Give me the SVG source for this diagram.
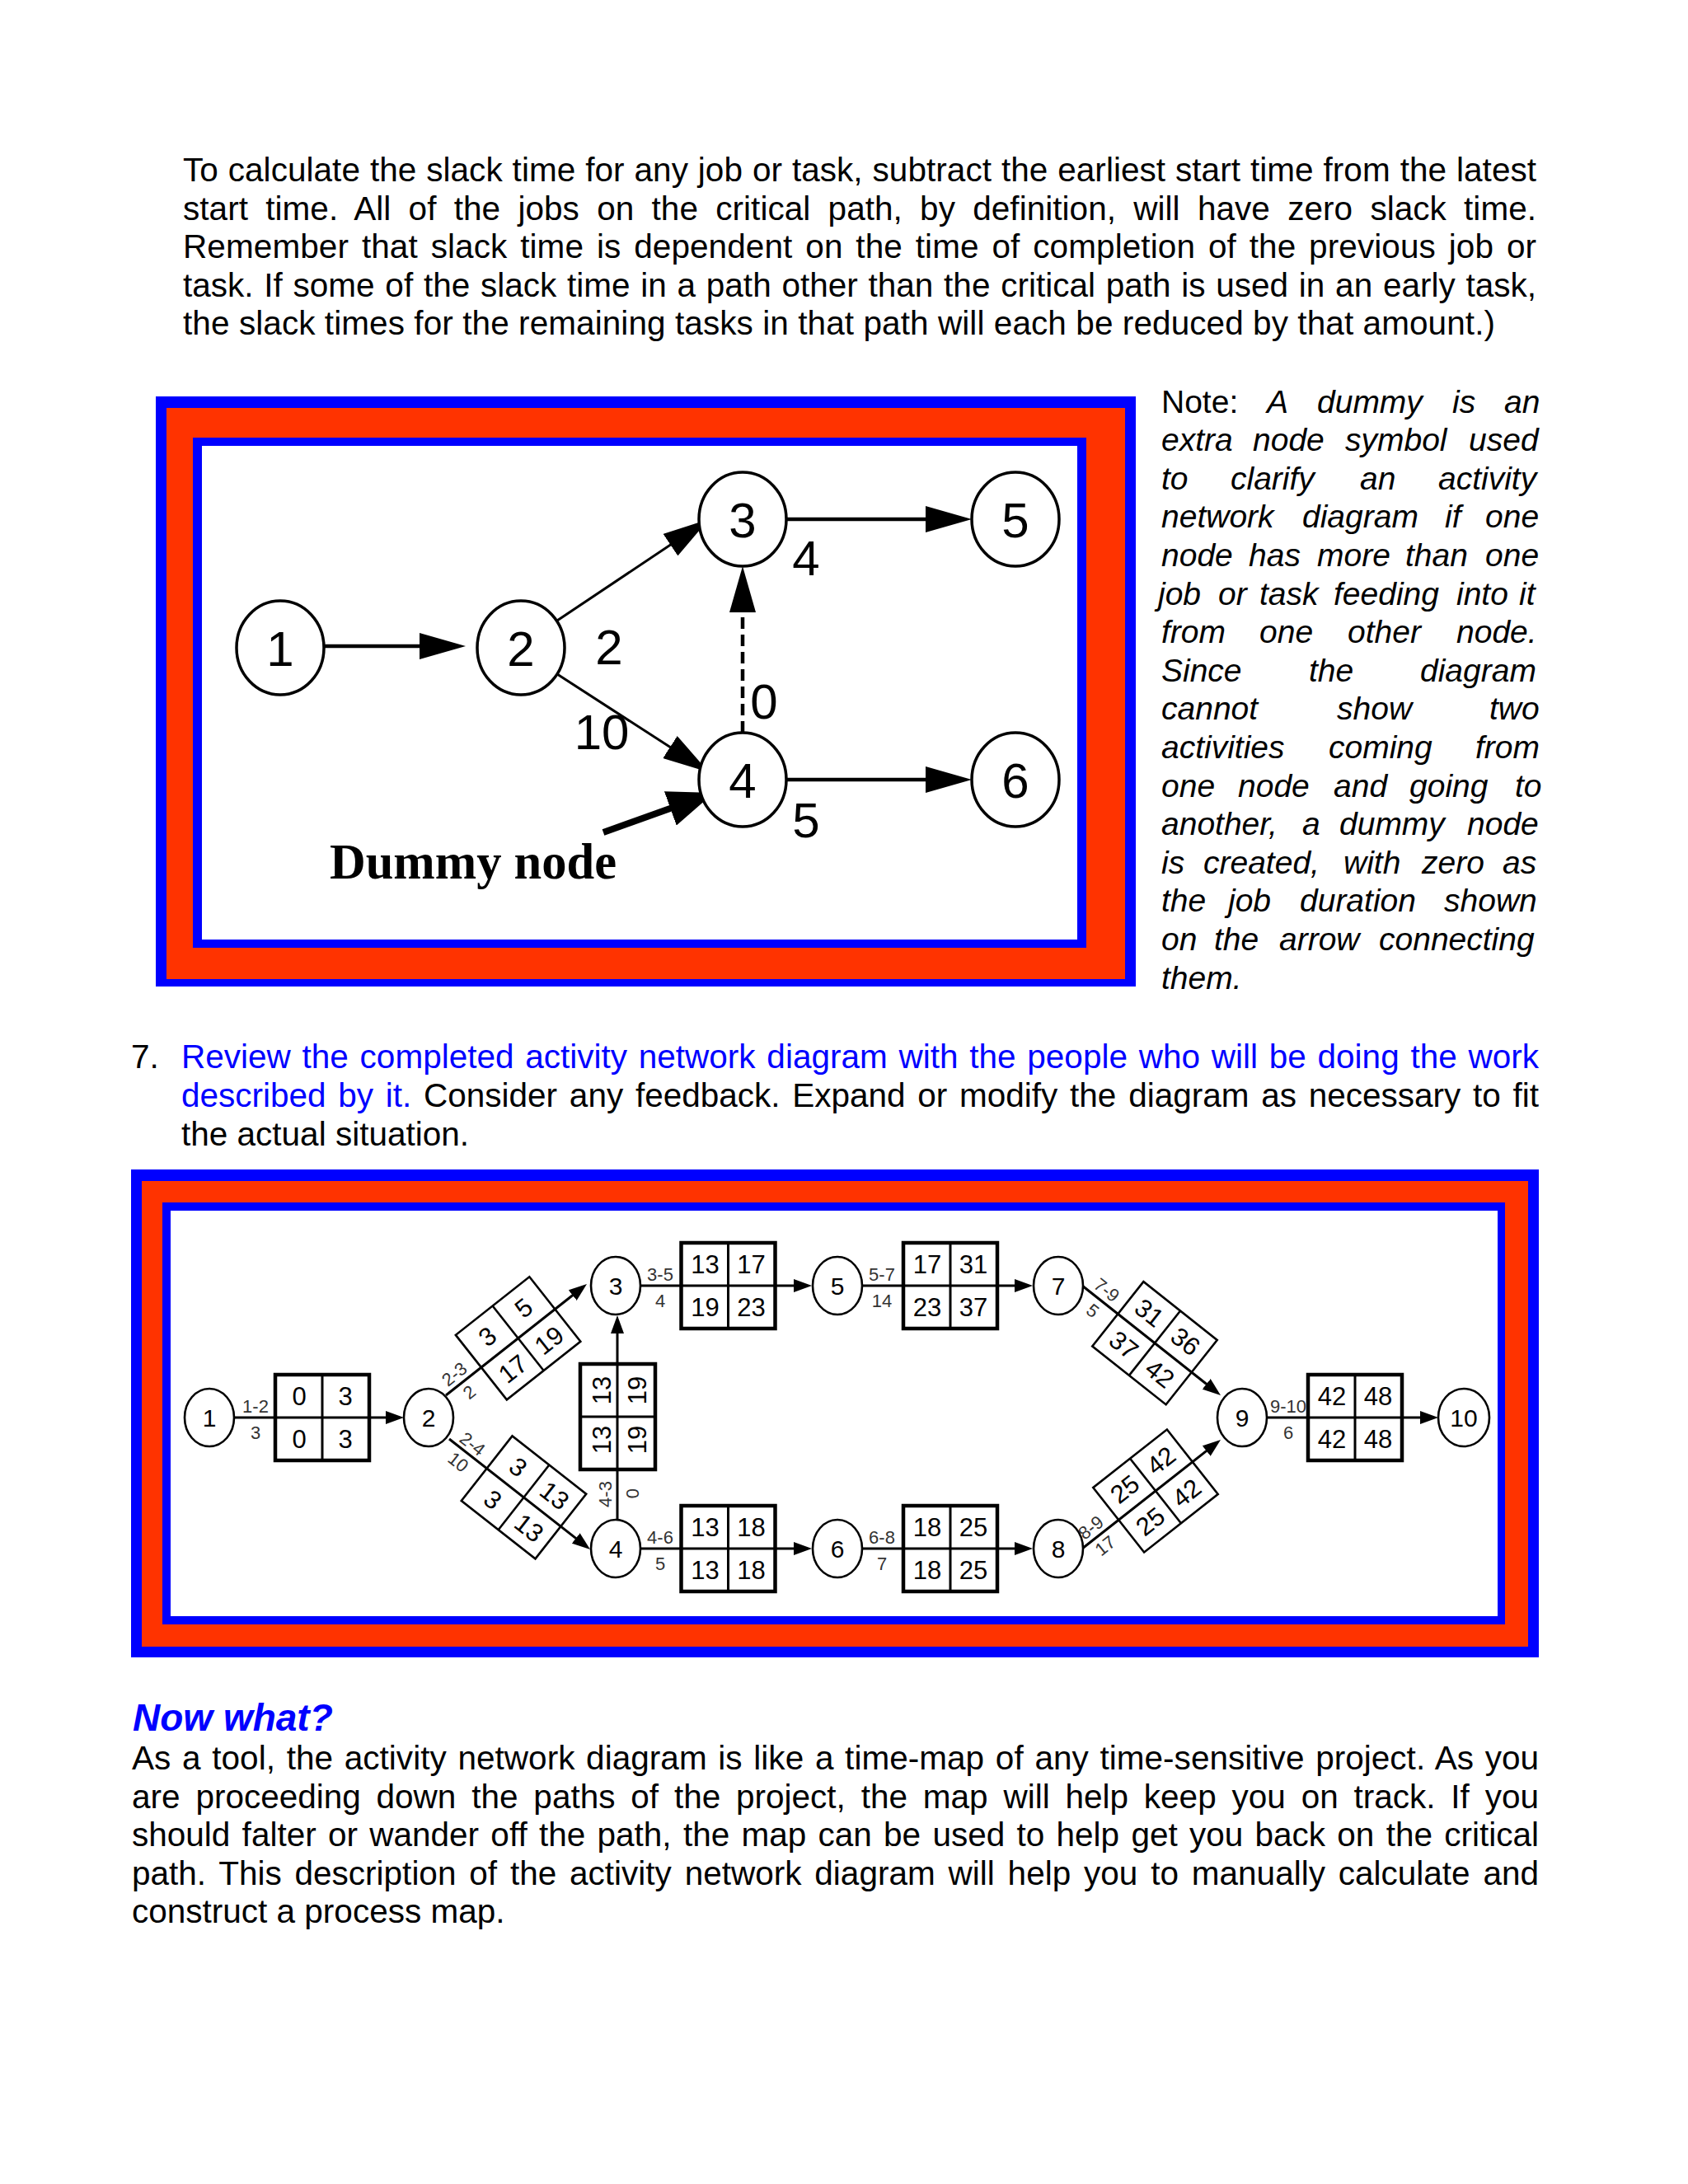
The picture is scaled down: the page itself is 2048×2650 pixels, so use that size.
<svg xmlns="http://www.w3.org/2000/svg" width="2048" height="2650" viewBox="0 0 2048 2650">
<defs>
<style>
.t{font-family:"Liberation Sans",Arial,sans-serif;font-size:40.5px;fill:#000}
.blue{fill:#0000ff}
.note{font-family:"Liberation Sans",Arial,sans-serif;font-size:39px;font-style:italic;fill:#000}
.up{font-style:normal}
.n1 ellipse{fill:#fff;stroke:#000;stroke-width:3.5}
.n1 text,.l1{font-family:"Liberation Sans",Arial,sans-serif;font-size:60px;text-anchor:middle;fill:#000}
.ln1{stroke:#000;stroke-width:4.5;fill:none}
.ln1d{stroke:#000;stroke-width:3;fill:none}
.n2 ellipse{fill:#fff;stroke:#000;stroke-width:2.6}
.n2 text{font-family:"Liberation Sans",Arial,sans-serif;font-size:30px;text-anchor:middle;fill:#000}
.ln2{stroke:#000;stroke-width:3;fill:none}
.hb{fill:none;stroke:#000;stroke-width:4.5}
.db{fill:none;stroke:#000;stroke-width:2.6}
.dv{stroke:#000;stroke-width:3}
.val{font-family:"Liberation Sans",Arial,sans-serif;font-size:31px;text-anchor:middle;fill:#000}
.lab{font-family:"Liberation Sans",Arial,sans-serif;font-size:22px;text-anchor:middle;fill:#333}
</style>
<marker id="ah1" markerUnits="userSpaceOnUse" viewBox="0 0 56 32" markerWidth="56" markerHeight="32" refX="36" refY="16" orient="auto"><path d="M0,0 L56,16 L0,32 Z" fill="#000"/></marker>
<marker id="ahd" markerUnits="userSpaceOnUse" viewBox="0 0 56 44" markerWidth="56" markerHeight="44" refX="36" refY="22" orient="auto"><path d="M0,0 L56,22 L0,44 Z" fill="#000"/></marker>
<marker id="ah2" markerUnits="userSpaceOnUse" viewBox="0 0 22 16" markerWidth="22" markerHeight="16" refX="14" refY="8" orient="auto"><path d="M0,0 L22,8 L0,16 Z" fill="#000"/></marker>
</defs>
<rect width="2048" height="2650" fill="#fff"/>

<g id="top-paragraph" class="t">
<text x="222" y="220" textLength="1642" lengthAdjust="spacing" style="word-spacing:0.6px">To calculate the slack time for any job or task, subtract the earliest start time from the latest</text>
<text x="222" y="266.5" textLength="1642" lengthAdjust="spacing" style="word-spacing:10px">start time. All of the jobs on the critical path, by definition, will have zero slack time.</text>
<text x="222" y="313" textLength="1642" lengthAdjust="spacing" style="word-spacing:4.5px">Remember that slack time is dependent on the time of completion of the previous job or</text>
<text x="222" y="359.5" textLength="1642" lengthAdjust="spacing" style="word-spacing:1.5px">task. If some of the slack time in a path other than the critical path is used in an early task,</text>
<text x="222" y="406" textLength="1592" lengthAdjust="spacing">the slack times for the remaining tasks in that path will each be reduced by that amount.)</text>
</g>

<g id="diagram1-frame">
<rect x="189" y="481" width="1189" height="716" fill="#0000ff"/>
<rect x="202" y="495" width="1163" height="693" fill="#ff3300"/>
<rect x="234" y="531" width="1084" height="619" fill="#0000ff"/>
<rect x="245" y="541" width="1062" height="599" fill="#fff"/>
</g>

<g id="d1-connectors">
<line class="ln1" x1="393" y1="784" x2="545" y2="784" marker-end="url(#ah1)"/>
<line class="ln1" x1="954" y1="630" x2="1159" y2="630" marker-end="url(#ah1)"/>
<line class="ln1" x1="954" y1="946" x2="1159" y2="946" marker-end="url(#ah1)"/>
<line class="ln1d" x1="673" y1="755" x2="843.4" y2="641.1" marker-end="url(#ah1)"/>
<line class="ln1d" x1="673" y1="816" x2="843.2" y2="926.1" marker-end="url(#ah1)"/>
<line class="ln1" x1="901" y1="889" x2="901" y2="707" stroke-dasharray="14 7" marker-end="url(#ah1)"/>
<line x1="732" y1="1010" x2="847.2" y2="968.7" stroke="#000" stroke-width="8" marker-end="url(#ahd)"/>
</g>
<g id="d1-node-1" class="n1"><ellipse cx="340" cy="786" rx="53" ry="57"/><text x="340" y="807.5">1</text></g>
<g id="d1-node-2" class="n1"><ellipse cx="632" cy="786" rx="53" ry="57"/><text x="632" y="807.5">2</text></g>
<g id="d1-node-3" class="n1"><ellipse cx="901" cy="630" rx="53" ry="57"/><text x="901" y="651.5">3</text></g>
<g id="d1-node-4" class="n1"><ellipse cx="901" cy="946" rx="53" ry="57"/><text x="901" y="967.5">4</text></g>
<g id="d1-node-5" class="n1"><ellipse cx="1232" cy="630" rx="53" ry="57"/><text x="1232" y="651.5">5</text></g>
<g id="d1-node-6" class="n1"><ellipse cx="1232" cy="946" rx="53" ry="57"/><text x="1232" y="967.5">6</text></g>
<g id="d1-labels">
<text class="l1" x="739" y="805.5">2</text>
<text class="l1" x="978" y="697.5">4</text>
<text class="l1" x="730" y="908.5">10</text>
<text class="l1" x="927" y="871.5">0</text>
<text class="l1" x="978" y="1015.5">5</text>
<text x="400" y="1065.7" textLength="348" lengthAdjust="spacingAndGlyphs" style="font-family:'Liberation Serif','Times New Roman',serif;font-weight:bold;font-size:61px">Dummy node</text>
</g>

<g id="note">
<text class="note" y="500.5"><tspan class="up" x="1409">Note:</tspan><tspan x="1537">A</tspan><tspan x="1598">dummy</tspan><tspan x="1762">is</tspan><tspan x="1825">an</tspan></text>
<text class="note" y="547.1"><tspan x="1409">extra</tspan><tspan x="1520">node</tspan><tspan x="1632">symbol</tspan><tspan x="1782">used</tspan></text>
<text class="note" y="593.7"><tspan x="1409">to</tspan><tspan x="1493">clarify</tspan><tspan x="1650">an</tspan><tspan x="1745">activity</tspan></text>
<text class="note" y="640.3"><tspan x="1409">network</tspan><tspan x="1580">diagram</tspan><tspan x="1753">if</tspan><tspan x="1802">one</tspan></text>
<text class="note" y="686.9"><tspan x="1409">node</tspan><tspan x="1515">has</tspan><tspan x="1598">more</tspan><tspan x="1705">than</tspan><tspan x="1802">one</tspan></text>
<text class="note" y="733.5"><tspan x="1405">job</tspan><tspan x="1478">or</tspan><tspan x="1528">task</tspan><tspan x="1618">feeding</tspan><tspan x="1767">into</tspan><tspan x="1843">it</tspan></text>
<text class="note" y="780.1"><tspan x="1409">from</tspan><tspan x="1528">one</tspan><tspan x="1635">other</tspan><tspan x="1767">node.</tspan></text>
<text class="note" y="826.7"><tspan x="1409">Since</tspan><tspan x="1588">the</tspan><tspan x="1723">diagram</tspan></text>
<text class="note" y="873.3"><tspan x="1409">cannot</tspan><tspan x="1622">show</tspan><tspan x="1807">two</tspan></text>
<text class="note" y="919.9"><tspan x="1409">activities</tspan><tspan x="1612">coming</tspan><tspan x="1790">from</tspan></text>
<text class="note" y="966.5"><tspan x="1409">one</tspan><tspan x="1502">node</tspan><tspan x="1618">and</tspan><tspan x="1710">going</tspan><tspan x="1838">to</tspan></text>
<text class="note" y="1013.1"><tspan x="1409">another,</tspan><tspan x="1580">a</tspan><tspan x="1625">dummy</tspan><tspan x="1780">node</tspan></text>
<text class="note" y="1059.7"><tspan x="1409">is</tspan><tspan x="1460">created,</tspan><tspan x="1630">with</tspan><tspan x="1725">zero</tspan><tspan x="1823">as</tspan></text>
<text class="note" y="1106.3"><tspan x="1409">the</tspan><tspan x="1490">job</tspan><tspan x="1577">duration</tspan><tspan x="1752">shown</tspan></text>
<text class="note" y="1152.9"><tspan x="1409">on</tspan><tspan x="1473">the</tspan><tspan x="1552">arrow</tspan><tspan x="1673">connecting</tspan></text>
<text class="note" y="1199.5"><tspan x="1409">them.</tspan></text>
</g>

<g id="step-7" class="t">
<text x="159" y="1296">7.</text>
<text x="220" y="1296" class="blue" textLength="1647" lengthAdjust="spacing" style="word-spacing:2.5px">Review the completed activity network diagram with the people who will be doing the work</text>
<text x="220" y="1343" textLength="1647" lengthAdjust="spacing" style="word-spacing:3.5px"><tspan class="blue">described by it.</tspan> Consider any feedback. Expand or modify the diagram as necessary to fit</text>
<text x="220" y="1390">the actual situation.</text>
</g>

<g id="diagram2-frame">
<rect x="159" y="1419" width="1708" height="592" fill="#0000ff"/>
<rect x="172" y="1433" width="1682" height="565" fill="#ff3300"/>
<rect x="197" y="1459" width="1629" height="512" fill="#0000ff"/>
<rect x="207" y="1469" width="1610" height="492" fill="#fff"/>
</g>

<g id="d2-connectors">
<line class="ln2" x1="284" y1="1720" x2="482" y2="1720" marker-end="url(#ah2)"/>
<line class="ln2" x1="777" y1="1560" x2="977" y2="1560" marker-end="url(#ah2)"/>
<line class="ln2" x1="1046" y1="1560" x2="1245" y2="1560" marker-end="url(#ah2)"/>
<line class="ln2" x1="777" y1="1879" x2="977" y2="1879" marker-end="url(#ah2)"/>
<line class="ln2" x1="1046" y1="1879" x2="1245" y2="1879" marker-end="url(#ah2)"/>
<line class="ln2" x1="1537" y1="1720" x2="1737" y2="1720" marker-end="url(#ah2)"/>
<line class="ln2" x1="541" y1="1693" x2="705.7" y2="1563" marker-end="url(#ah2)"/>
<line class="ln2" x1="545" y1="1746" x2="709.7" y2="1875.1" marker-end="url(#ah2)"/>
<line class="ln2" x1="1313" y1="1560" x2="1474.7" y2="1688" marker-end="url(#ah2)"/>
<line class="ln2" x1="1313" y1="1879" x2="1474.7" y2="1751.9" marker-end="url(#ah2)"/>
<line class="ln2" x1="749" y1="1844" x2="749" y2="1604" marker-end="url(#ah2)"/>
</g>

<g id="d2-node-1" class="n2"><ellipse cx="254" cy="1720" rx="30" ry="35"/><text x="254" y="1731">1</text></g>
<g id="d2-node-2" class="n2"><ellipse cx="520" cy="1720" rx="30" ry="35"/><text x="520" y="1731">2</text></g>
<g id="d2-node-3" class="n2"><ellipse cx="747" cy="1560" rx="30" ry="35"/><text x="747" y="1571">3</text></g>
<g id="d2-node-4" class="n2"><ellipse cx="747" cy="1879" rx="30" ry="35"/><text x="747" y="1890">4</text></g>
<g id="d2-node-5" class="n2"><ellipse cx="1016" cy="1560" rx="30" ry="35"/><text x="1016" y="1571">5</text></g>
<g id="d2-node-6" class="n2"><ellipse cx="1016" cy="1879" rx="30" ry="35"/><text x="1016" y="1890">6</text></g>
<g id="d2-node-7" class="n2"><ellipse cx="1284" cy="1560" rx="30" ry="35"/><text x="1284" y="1571">7</text></g>
<g id="d2-node-8" class="n2"><ellipse cx="1284" cy="1879" rx="30" ry="35"/><text x="1284" y="1890">8</text></g>
<g id="d2-node-9" class="n2"><ellipse cx="1507" cy="1720" rx="30" ry="35"/><text x="1507" y="1731">9</text></g>
<g id="d2-node-10" class="n2"><ellipse cx="1776" cy="1720" rx="31" ry="35"/><text x="1776" y="1731">10</text></g>

<g id="d2-act-1-2" transform="translate(391,1720)">
<rect class="hb" x="-57" y="-52" width="114" height="104"/><line class="dv" x1="0" y1="-52" x2="0" y2="52"/>
<text class="val" x="-28" y="-15">0</text><text class="val" x="28" y="-15">3</text><text class="val" x="-28" y="37">0</text><text class="val" x="28" y="37">3</text>
<text class="lab" x="-81" y="-6">1-2</text><text class="lab" x="-81" y="26">3</text>
</g>
<g id="d2-act-3-5" transform="translate(883.5,1560)">
<rect class="hb" x="-57" y="-52" width="114" height="104"/><line class="dv" x1="0" y1="-52" x2="0" y2="52"/>
<text class="val" x="-28" y="-15">13</text><text class="val" x="28" y="-15">17</text><text class="val" x="-28" y="37">19</text><text class="val" x="28" y="37">23</text>
<text class="lab" x="-82.5" y="-6">3-5</text><text class="lab" x="-82.5" y="26">4</text>
</g>
<g id="d2-act-5-7" transform="translate(1153,1560)">
<rect class="hb" x="-57" y="-52" width="114" height="104"/><line class="dv" x1="0" y1="-52" x2="0" y2="52"/>
<text class="val" x="-28" y="-15">17</text><text class="val" x="28" y="-15">31</text><text class="val" x="-28" y="37">23</text><text class="val" x="28" y="37">37</text>
<text class="lab" x="-83" y="-6">5-7</text><text class="lab" x="-83" y="26">14</text>
</g>
<g id="d2-act-4-6" transform="translate(883.5,1879)">
<rect class="hb" x="-57" y="-52" width="114" height="104"/><line class="dv" x1="0" y1="-52" x2="0" y2="52"/>
<text class="val" x="-28" y="-15">13</text><text class="val" x="28" y="-15">18</text><text class="val" x="-28" y="37">13</text><text class="val" x="28" y="37">18</text>
<text class="lab" x="-82.5" y="-6">4-6</text><text class="lab" x="-82.5" y="26">5</text>
</g>
<g id="d2-act-6-8" transform="translate(1153,1879)">
<rect class="hb" x="-57" y="-52" width="114" height="104"/><line class="dv" x1="0" y1="-52" x2="0" y2="52"/>
<text class="val" x="-28" y="-15">18</text><text class="val" x="28" y="-15">25</text><text class="val" x="-28" y="37">18</text><text class="val" x="28" y="37">25</text>
<text class="lab" x="-83" y="-6">6-8</text><text class="lab" x="-83" y="26">7</text>
</g>
<g id="d2-act-9-10" transform="translate(1644,1720)">
<rect class="hb" x="-57" y="-52" width="114" height="104"/><line class="dv" x1="0" y1="-52" x2="0" y2="52"/>
<text class="val" x="-28" y="-15">42</text><text class="val" x="28" y="-15">48</text><text class="val" x="-28" y="37">42</text><text class="val" x="28" y="37">48</text>
<text class="lab" x="-81" y="-6">9-10</text><text class="lab" x="-81" y="26">6</text>
</g>
<g id="d2-act-4-3">
<rect class="hb" x="704" y="1655" width="91" height="128"/><line class="dv" x1="704" y1="1719" x2="795" y2="1719"/>
<text class="val" transform="translate(729.6,1747) rotate(-90)" y="11">13</text>
<text class="val" transform="translate(729.6,1687) rotate(-90)" y="11">13</text>
<text class="val" transform="translate(773,1747) rotate(-90)" y="11">19</text>
<text class="val" transform="translate(773,1687) rotate(-90)" y="11">19</text>
<text class="lab" transform="translate(733.6,1813) rotate(-90)" y="8">4-3</text>
<text class="lab" transform="translate(767,1812) rotate(-90)" y="8">0</text>
</g>
<g id="d2-act-2-3">
<g transform="translate(628.6,1623.8) rotate(-38.3)">
<rect class="db" x="-57" y="-50" width="114" height="100"/><line class="dv" x1="0" y1="-50" x2="0" y2="50" style="stroke-width:2.6"/>
<text class="val" x="-28" y="-14">3</text><text class="val" x="28" y="-14">5</text><text class="val" x="-28" y="36">17</text><text class="val" x="28" y="36">19</text>
</g>
<text class="lab" transform="translate(551,1667) rotate(-38.3)" y="8">2-3</text>
<text class="lab" transform="translate(569,1689) rotate(-38.3)" y="8">2</text>
</g>
<g id="d2-act-2-4">
<g transform="translate(635.5,1816.9) rotate(38.1)">
<rect class="db" x="-57" y="-50" width="114" height="100"/><line class="dv" x1="0" y1="-50" x2="0" y2="50" style="stroke-width:2.6"/>
<text class="val" x="-28" y="-14">3</text><text class="val" x="28" y="-14">13</text><text class="val" x="-28" y="36">3</text><text class="val" x="28" y="36">13</text>
</g>
<text class="lab" transform="translate(573.5,1751.8) rotate(38.1)" y="8">2-4</text>
<text class="lab" transform="translate(556.2,1773.8) rotate(38.1)" y="8">10</text>
</g>
<g id="d2-act-7-9">
<g transform="translate(1401,1629.7) rotate(38.4)">
<rect class="db" x="-57" y="-50" width="114" height="100"/><line class="dv" x1="0" y1="-50" x2="0" y2="50" style="stroke-width:2.6"/>
<text class="val" x="-28" y="-14">31</text><text class="val" x="28" y="-14">36</text><text class="val" x="-28" y="36">37</text><text class="val" x="28" y="36">42</text>
</g>
<text class="lab" transform="translate(1343,1565) rotate(38.4)" y="8">7-9</text>
<text class="lab" transform="translate(1326,1590) rotate(38.4)" y="8">5</text>
</g>
<g id="d2-act-8-9">
<g transform="translate(1402,1809) rotate(-38.2)">
<rect class="db" x="-57" y="-50" width="114" height="100"/><line class="dv" x1="0" y1="-50" x2="0" y2="50" style="stroke-width:2.6"/>
<text class="val" x="-28" y="-14">25</text><text class="val" x="28" y="-14">42</text><text class="val" x="-28" y="36">25</text><text class="val" x="28" y="36">42</text>
</g>
<text class="lab" transform="translate(1323.2,1853.2) rotate(-38.2)" y="8">8-9</text>
<text class="lab" transform="translate(1340.6,1875.2) rotate(-38.2)" y="8">17</text>
</g>

<g id="now-what" class="t">
<text x="161" y="2100" class="blue" style="font-weight:bold;font-style:italic;font-size:46px">Now what?</text>
<text x="160" y="2147" textLength="1707" lengthAdjust="spacing" style="word-spacing:2.4px">As a tool, the activity network diagram is like a time-map of any time-sensitive project. As you</text>
<text x="160" y="2194" textLength="1707" lengthAdjust="spacing" style="word-spacing:7.6px">are proceeding down the paths of the project, the map will help keep you on track. If you</text>
<text x="160" y="2240" textLength="1707" lengthAdjust="spacing" style="word-spacing:3px">should falter or wander off the path, the map can be used to help get you back on the critical</text>
<text x="160" y="2287" textLength="1707" lengthAdjust="spacing" style="word-spacing:4.6px">path. This description of the activity network diagram will help you to manually calculate and</text>
<text x="160" y="2333">construct a process map.</text>
</g>
</svg>
